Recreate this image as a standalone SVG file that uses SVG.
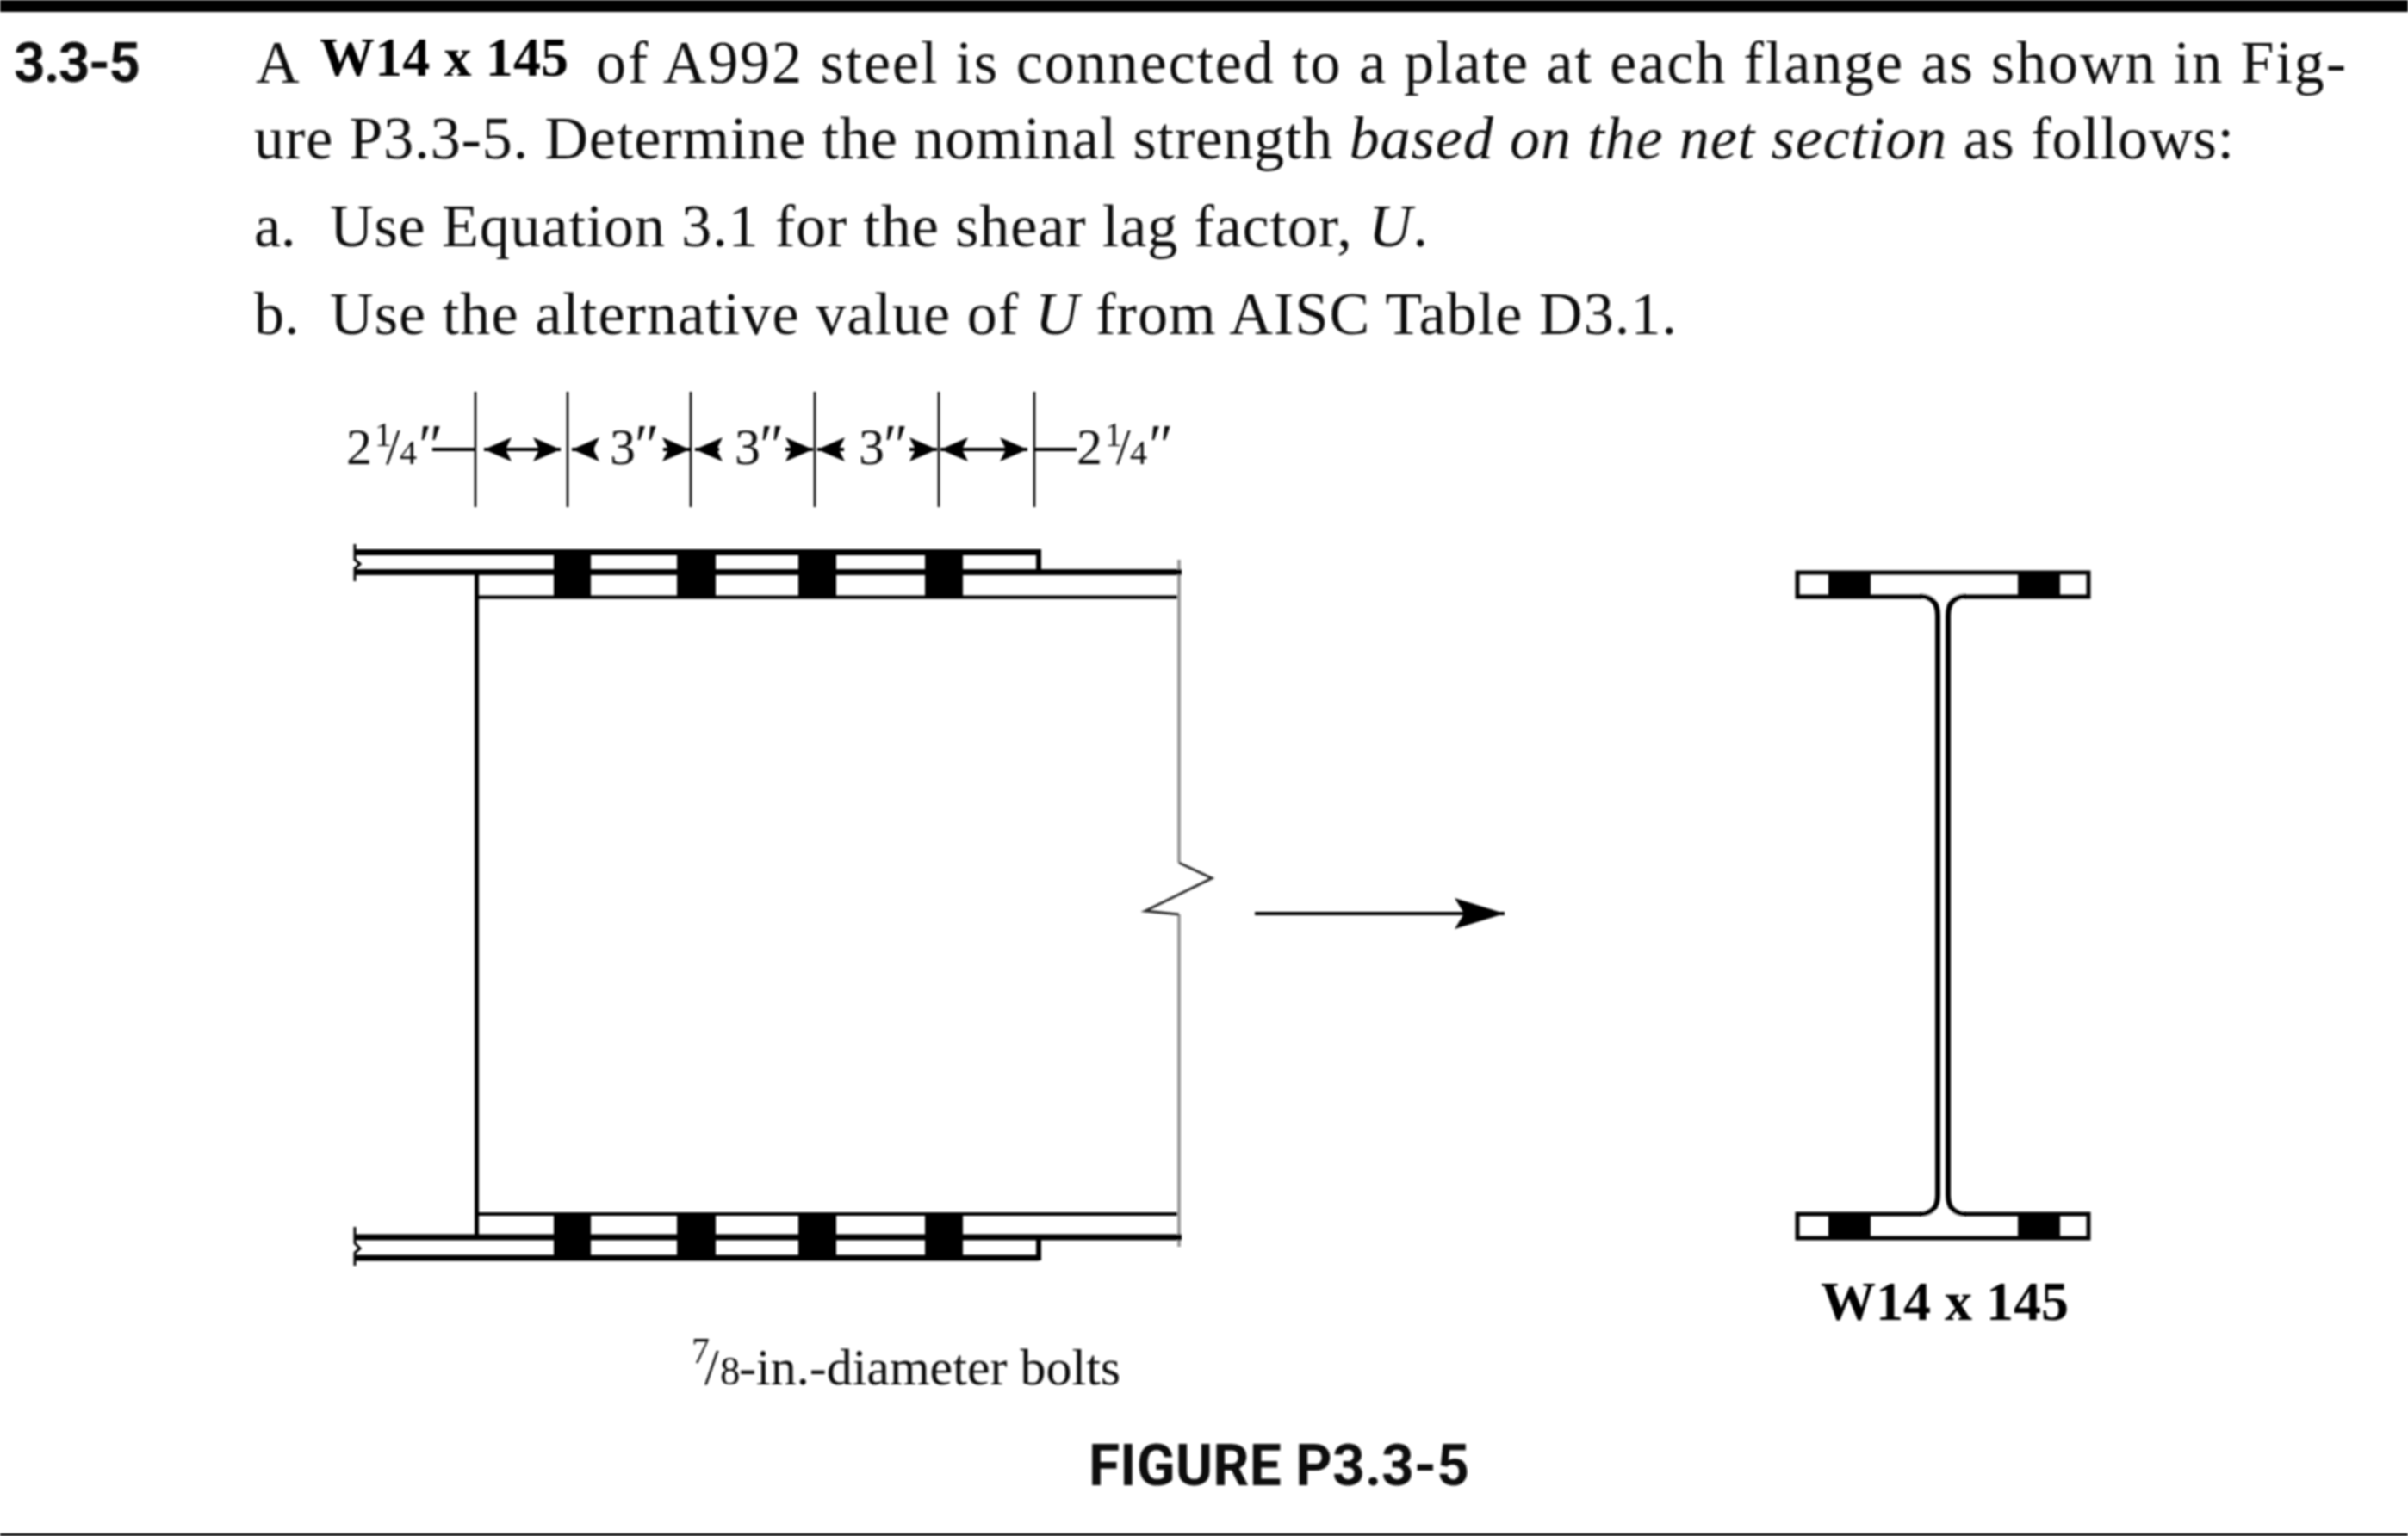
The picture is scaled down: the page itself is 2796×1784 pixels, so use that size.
<svg xmlns="http://www.w3.org/2000/svg" width="2796" height="1784" viewBox="0 0 2796 1784">
<style>
.s{font-family:"Liberation Serif","Times New Roman",serif;fill:#111}
.a{font-family:Roboto,"Liberation Sans",Arial,sans-serif;font-weight:700;fill:#111}
.t{font-size:70px}
.b{font-weight:700;fill:#000}
.d{font-size:60px}
.n{font-size:40px}
.q{font-size:68px}
.k{stroke:#000;fill:none}
.g{stroke:#9a9a9a;fill:none}
.bolt{fill:#000;stroke:none}
</style>
<defs>
<filter id="soft" x="-2%" y="-2%" width="104%" height="104%"><feGaussianBlur stdDeviation="0.9"/></filter>
<marker id="ahE" markerUnits="userSpaceOnUse" markerWidth="36" markerHeight="32" refX="33" refY="16" orient="auto"><path d="M33 16L1 2L8 16L1 30Z" fill="#000"/></marker>
<marker id="ahS" markerUnits="userSpaceOnUse" markerWidth="36" markerHeight="32" refX="3" refY="16" orient="auto"><path d="M3 16L35 2L28 16L35 30Z" fill="#000"/></marker>
<marker id="force" markerUnits="userSpaceOnUse" markerWidth="62" markerHeight="40" refX="60" refY="20" orient="auto"><path d="M60 20L2 2L13 20L2 38Z" fill="#000"/></marker>
</defs>
<rect width="2796" height="1784" fill="#fff"/>
<g filter="url(#soft)">
<g id="page-rules">
<rect x="0" y="0" width="2796" height="14" fill="#000"/>
<rect x="0" y="1781" width="2796" height="3" fill="#000"/>
</g>
<g id="problem-text">
<text class="a" x="16" y="95" font-size="64" textLength="147">3.3-5</text>
<text class="s t" x="297" y="96">A</text>
<text class="s b" x="371" y="88" font-size="64" textLength="289">W14 x 145</text>
<text class="s t" x="692" y="96" textLength="2032">of A992 steel is connected to a plate at each flange as shown in Fig-</text>
<text class="s t" x="295" y="184" textLength="2299">ure P3.3-5. Determine the nominal strength <tspan font-style="italic">based on the net section</tspan> as follows:</text>
<text class="s t" x="295" y="286">a.</text>
<text class="s t" x="383" y="286" textLength="1275">Use Equation 3.1 for the shear lag factor, <tspan font-style="italic">U</tspan>.</text>
<text class="s t" x="295" y="388">b.</text>
<text class="s t" x="383" y="388" textLength="1564">Use the alternative value of <tspan font-style="italic">U</tspan> from AISC Table D3.1.</text>
</g>
<g id="dimension-labels">
<text class="s d" x="402" y="539">2<tspan class="n" x="435" y="518">1</tspan><tspan x="448" y="539">/</tspan><tspan class="n" x="464" y="539">4</tspan><tspan class="q" x="486" y="539">″</tspan></text>
<text class="s d" x="708" y="539">3<tspan class="q" x="737">″</tspan></text>
<text class="s d" x="853" y="539">3<tspan class="q" x="882">″</tspan></text>
<text class="s d" x="997" y="539">3<tspan class="q" x="1026">″</tspan></text>
<text class="s d" x="1250" y="539">2<tspan class="n" x="1283" y="518">1</tspan><tspan x="1296" y="539">/</tspan><tspan class="n" x="1312" y="539">4</tspan><tspan class="q" x="1334" y="539">″</tspan></text>
</g>
<g id="plate-elevation">
<path class="k" stroke-width="5" d="M553.5 665V1437"/>
<path class="k" stroke-width="4" d="M556 693.500H1368M556 1410H1368"/>
<path class="g" stroke-width="4" d="M1369 650V1002M1369 1062V1448"/>
<path stroke="#2a2a2a" fill="none" stroke-width="3" d="M1369 1002L1407 1020L1330 1058L1369 1062"/>
<path class="k" stroke-width="7" d="M412 641.500H1206M412 664.500H1372M412 1437H1372M412 1461H1206"/>
<path class="k" stroke-width="6" d="M1206 638V664M1206 1440V1464"/>
<path class="k" stroke-width="3" d="M412 632V650L418 655L412 660V675M412 1425V1444L418 1450L412 1455V1470"/>
<g class="bolt">
<rect x="643" y="640" width="43" height="54"/><rect x="786" y="640" width="45" height="54"/><rect x="927" y="640" width="44" height="54"/><rect x="1074" y="640" width="44" height="54"/>
<rect x="643" y="1410" width="43" height="50"/><rect x="786" y="1410" width="45" height="50"/><rect x="927" y="1410" width="44" height="50"/><rect x="1074" y="1410" width="44" height="50"/>
</g>
</g>
<g id="w-section">
<rect class="k" stroke-width="5" x="2087" y="665" width="338" height="28" fill="#fff"/>
<rect class="k" stroke-width="5" x="2087" y="1410" width="338" height="28" fill="#fff"/>
<path stroke="#fff" stroke-width="8" fill="none" d="M2232 692.500H2280M2232 1410H2280"/>
<path class="k" stroke-width="6" d="M2230 692.500C2243 692.500 2250 700 2250 715V1388C2250 1402 2243 1410 2230 1410M2282 692.500C2269 692.500 2262 700 2262 715V1388C2262 1402 2269 1410 2282 1410"/>
<g class="bolt">
<rect x="2123" y="665" width="49" height="28"/><rect x="2343" y="665" width="49" height="28"/>
<rect x="2123" y="1410" width="49" height="28"/><rect x="2343" y="1410" width="49" height="28"/>
</g>
<text class="s b" x="2114" y="1533" font-size="64" textLength="288">W14 x 145</text>
</g>
<g id="bolt-label"><text class="s" x="803" y="1583" font-size="42">7<tspan x="818" y="1608" font-size="60">/</tspan><tspan x="836" y="1608" font-size="47">8</tspan><tspan x="858" y="1608" font-size="60">-in.-diameter bolts</tspan></text></g>
<g id="figure-caption"><text class="a" x="1264" y="1725" font-size="66" textLength="442">FIGURE P3.3-5</text></g>
<g id="connectors">
<path class="k" stroke-width="2.500" d="M552 455V589M659 455V589M802 455V589M946 455V589M1090 455V589M1201 455V589"/>
<g class="k" stroke-width="4">
<path d="M502 522H552M1201 522H1250"/>
<line x1="562" y1="522" x2="651" y2="522" marker-start="url(#ahS)" marker-end="url(#ahE)"/>
<line x1="664" y1="522" x2="690" y2="522" marker-start="url(#ahS)"/>
<line x1="770" y1="522" x2="801" y2="522" marker-end="url(#ahE)"/>
<line x1="807" y1="522" x2="835" y2="522" marker-start="url(#ahS)"/>
<line x1="912" y1="522" x2="944" y2="522" marker-end="url(#ahE)"/>
<line x1="949" y1="522" x2="980" y2="522" marker-start="url(#ahS)"/>
<line x1="1056" y1="522" x2="1088" y2="522" marker-end="url(#ahE)"/>
<line x1="1092" y1="522" x2="1193" y2="522" marker-start="url(#ahS)" marker-end="url(#ahE)"/>
<line x1="1457" y1="1061" x2="1747" y2="1061" marker-end="url(#force)"/>
</g>
</g>
</g>
</svg>
